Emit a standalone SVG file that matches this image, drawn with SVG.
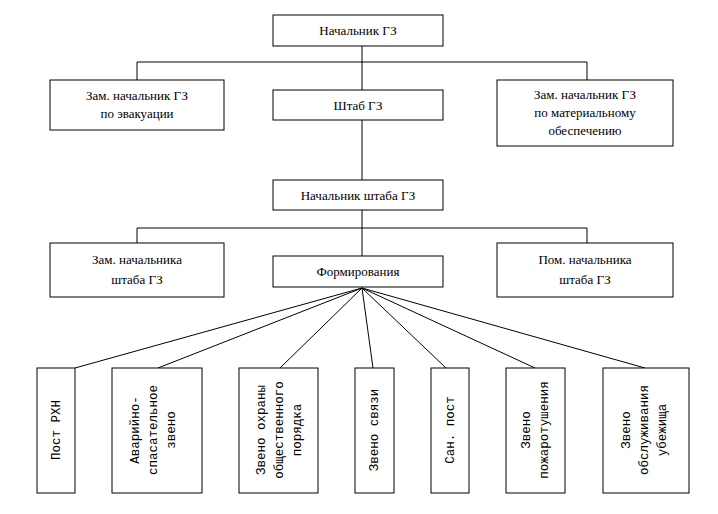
<svg xmlns="http://www.w3.org/2000/svg" width="718" height="514" viewBox="0 0 718 514">
<style>
rect{fill:#fff;stroke:#000;stroke-width:1}
.c line{stroke:#000;stroke-width:1}
</style>
<rect width="718" height="514" style="stroke:none"/>
<g class="c">
<line x1="362" y1="46" x2="362" y2="90"/>
<line x1="137" y1="62" x2="587" y2="62"/>
<line x1="137" y1="62" x2="137" y2="80"/>
<line x1="587" y1="62" x2="587" y2="80"/>
<line x1="362" y1="120" x2="362" y2="180"/>
<line x1="362" y1="210" x2="362" y2="256"/>
<line x1="137" y1="228" x2="587" y2="228"/>
<line x1="137" y1="228" x2="137" y2="243"/>
<line x1="587" y1="228" x2="587" y2="243"/>
<line x1="362" y1="288" x2="75" y2="368"/>
<line x1="362" y1="288" x2="158" y2="368"/>
<line x1="362" y1="288" x2="280" y2="368"/>
<line x1="362" y1="288" x2="373" y2="368"/>
<line x1="362" y1="288" x2="446" y2="368"/>
<line x1="362" y1="288" x2="535" y2="368"/>
<line x1="362" y1="288" x2="645" y2="368"/>
</g>
<g font-family="Liberation Serif, DejaVu Serif, serif" font-size="13" text-anchor="middle" fill="#000">
<g id="n1"><rect x="273" y="15" width="170" height="31"/><text x="358" y="35">Начальник ГЗ</text></g>
<g id="n2"><rect x="50" y="80" width="174" height="50"/><text x="137" y="100">Зам. начальник ГЗ</text><text x="137" y="118">по эвакуации</text></g>
<g id="n3"><rect x="273" y="90" width="170" height="30"/><text x="358" y="110">Штаб ГЗ</text></g>
<g id="n4"><rect x="497" y="80" width="176" height="66"/><text x="585" y="99">Зам. начальник ГЗ</text><text x="585" y="117">по материальному</text><text x="585" y="135">обеспечению</text></g>
<g id="n5"><rect x="273" y="180" width="170" height="30"/><text x="358" y="200">Начальник штаба ГЗ</text></g>
<g id="n6"><rect x="50" y="243" width="174" height="54"/><text x="137" y="264">Зам. начальника</text><text x="137" y="284">штаба ГЗ</text></g>
<g id="n7"><rect x="273" y="256" width="170" height="31"/><text x="358" y="276">Формирования</text></g>
<g id="n8"><rect x="497" y="243" width="176" height="54"/><text x="585" y="264">Пом. начальника</text><text x="585" y="284">штаба ГЗ</text></g>
</g>
<g font-family="Liberation Mono, DejaVu Sans Mono, monospace" font-size="12.5" text-anchor="middle" fill="#000">
<g id="b1"><rect x="37" y="368" width="38" height="125"/><text transform="translate(60,430) rotate(-90)">Пост РХН</text></g>
<g id="b2"><rect x="112" y="368" width="90" height="125"/><text transform="translate(139,430) rotate(-90)">Аварийно-</text><text transform="translate(157,430) rotate(-90)">спасательное</text><text transform="translate(175,430) rotate(-90)">звено</text></g>
<g id="b3"><rect x="239" y="368" width="79" height="125"/><text transform="translate(265,430) rotate(-90)">Звено охраны</text><text transform="translate(283,430) rotate(-90)">общественного</text><text transform="translate(301,430) rotate(-90)">порядка</text></g>
<g id="b4"><rect x="355" y="368" width="39" height="125"/><text transform="translate(378,430) rotate(-90)">Звено связи</text></g>
<g id="b5"><rect x="431" y="368" width="38" height="125"/><text transform="translate(454,430) rotate(-90)">Сан. пост</text></g>
<g id="b6"><rect x="506" y="368" width="59" height="125"/><text transform="translate(530,430) rotate(-90)">Звено</text><text transform="translate(548,430) rotate(-90)">пожаротушения</text></g>
<g id="b7"><rect x="603" y="368" width="86" height="125"/><text transform="translate(630,430) rotate(-90)">Звено</text><text transform="translate(648,430) rotate(-90)">обслуживания</text><text transform="translate(666,430) rotate(-90)">убежища</text></g>
</g>
</svg>
